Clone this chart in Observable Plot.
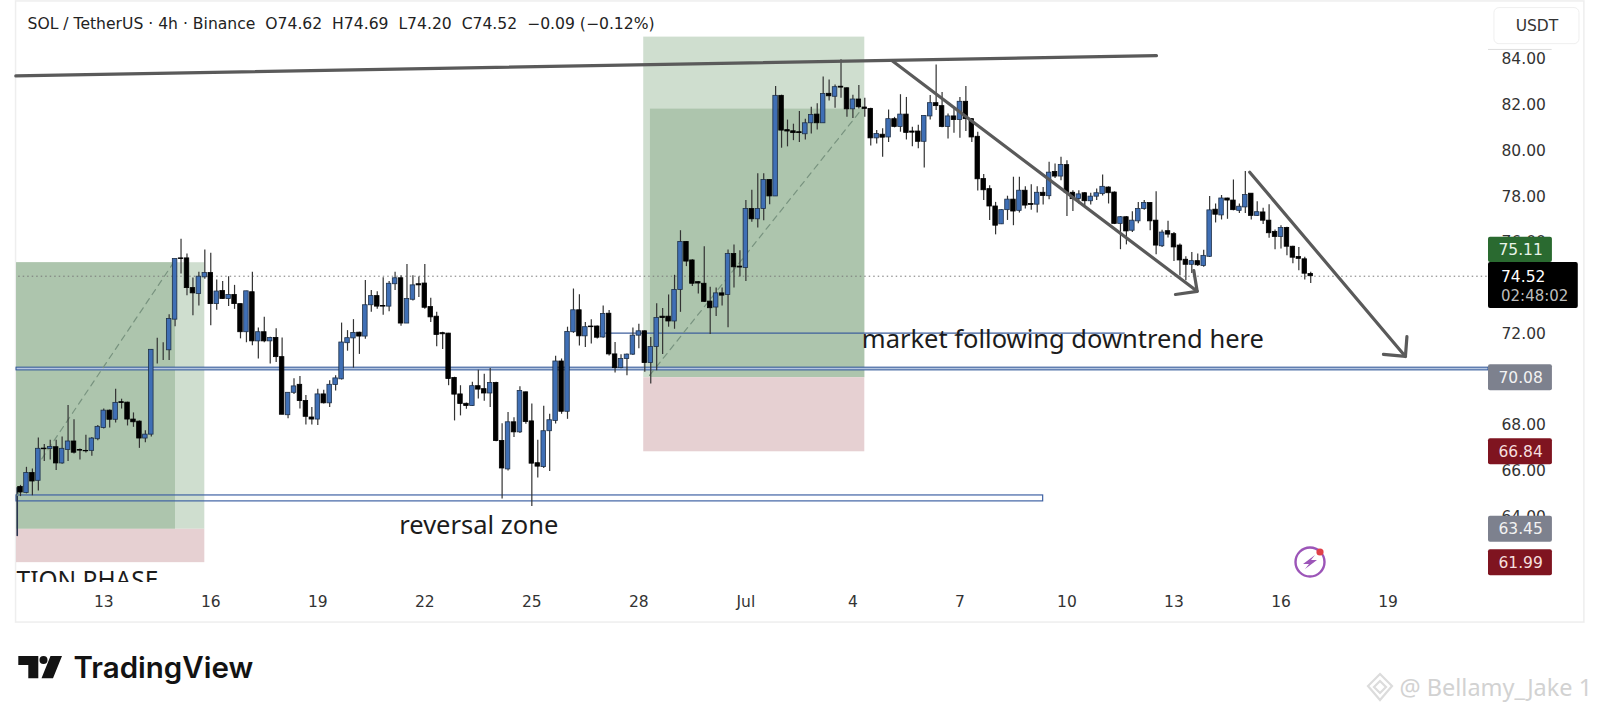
<!DOCTYPE html>
<html>
<head>
<meta charset="utf-8">
<script src="https://cdn.jsdelivr.net/npm/d3@7"></script>
<script src="https://cdn.jsdelivr.net/npm/@observablehq/plot@0.6"></script>
<style>
html,body{margin:0;padding:0;background:#fff;overflow:hidden}
svg{display:block}
</style>
</head>
<body>
<div id="chart"></div>
<script>
// 4h candles
const opens = [
65.30,65.04,65.91,65.57,66.98,66.96,67.04,66.33,66.92,67.29,
66.92,66.88,66.88,67.39,67.88,68.64,68.24,69.01,68.99,68.25,
68.16,67.42,67.59,71.30,71.30,71.28,72.62,75.30,75.30,74.00,
73.74,74.47,74.66,73.30,73.87,73.52,73.70,73.30,72.07,73.82,
71.67,72.07,71.67,71.82,70.98,68.44,69.42,69.77,69.06,68.34,
68.25,69.35,68.96,69.76,70.01,71.59,71.80,72.05,71.88,73.25,
73.65,73.22,73.19,74.17,74.43,72.45,73.49,74.17,74.20,73.17,
72.75,72.03,72.01,70.07,69.35,68.94,68.84,69.71,69.58,69.39,
69.85,67.31,66.07,68.13,67.69,69.44,68.17,66.34,66.17,67.74,
68.19,70.79,68.59,72.07,73.03,71.89,72.32,72.32,71.84,72.88,
71.10,70.50,70.90,71.09,71.92,72.11,70.72,71.42,72.75,72.75,
72.54,73.92,76.02,75.21,74.26,74.19,73.41,73.15,73.77,73.70,
75.49,74.94,74.88,77.46,77.01,77.46,78.73,78.01,82.41,80.91,
80.86,80.82,80.73,81.21,81.59,81.21,82.50,82.37,82.81,82.74,
81.82,82.25,81.90,81.84,80.55,80.71,80.59,81.39,81.05,81.59,
80.85,80.85,80.40,81.51,82.09,81.96,81.05,81.51,81.35,82.15,
81.39,80.62,78.77,78.33,77.57,76.79,77.41,77.87,77.38,78.26,
77.68,77.65,78.17,78.02,79.08,78.88,79.38,78.17,77.90,78.15,
77.80,78.00,78.11,78.40,78.18,76.81,77.10,76.51,76.92,77.46,
77.72,76.95,75.83,76.49,76.36,75.86,75.24,75.02,75.18,74.97,
75.37,77.43,77.18,77.92,77.83,77.38,77.53,78.13,77.16,77.31,
76.95,76.46,76.24,76.63,75.81,75.36,75.26,74.62];
const highs = [
65.37,66.16,66.09,67.44,67.16,67.34,67.34,67.49,68.86,68.24,
66.96,67.56,67.46,67.99,68.71,68.67,69.58,69.14,69.01,68.54,
68.19,67.76,71.30,71.81,71.61,72.83,75.27,76.14,75.49,74.44,
74.69,75.67,75.53,74.35,74.29,74.50,74.12,73.30,73.86,74.69,
72.26,72.72,71.85,72.22,71.82,69.42,70.03,70.13,69.30,68.78,
69.58,69.53,69.95,70.17,72.47,72.14,72.62,72.07,74.33,73.89,
73.84,74.45,74.29,74.69,74.54,75.03,74.54,74.49,75.03,73.56,
72.94,72.07,72.02,70.10,69.73,68.97,69.88,70.41,70.23,70.48,
69.88,68.07,68.56,68.33,69.68,69.46,68.93,67.34,68.83,68.48,
71.02,70.90,72.29,73.96,73.71,72.49,72.62,72.34,73.22,73.02,
71.62,71.09,71.12,72.25,72.42,72.14,71.84,73.32,73.11,73.70,
74.56,76.51,76.04,75.24,74.29,75.81,74.04,74.01,74.01,75.67,
75.89,75.63,77.83,78.28,79.00,79.00,78.74,82.82,82.44,81.35,
81.17,81.72,81.39,81.91,82.06,83.24,83.10,82.89,83.99,82.76,
82.44,82.86,82.31,81.87,80.89,80.97,81.79,81.47,82.46,82.34,
81.04,81.12,81.54,82.42,83.76,82.56,81.62,81.91,82.34,82.82,
81.42,80.82,78.97,78.48,77.75,77.43,78.02,78.85,78.85,78.43,
78.52,78.43,78.40,79.50,79.43,79.72,79.57,78.26,78.26,78.18,
78.15,78.33,78.95,78.43,78.21,77.13,77.13,77.34,77.75,77.83,
77.75,78.21,76.53,76.92,76.43,75.93,75.37,75.56,75.49,75.66,
78.01,77.68,78.05,77.93,78.73,77.68,79.10,78.13,77.78,77.49,
77.65,76.54,76.73,76.66,75.83,75.78,75.35,74.69];
const lows = [
64.88,65.00,64.92,65.12,66.41,66.48,66.02,66.30,66.41,66.74,
66.48,66.79,66.64,67.32,67.84,67.88,68.10,68.71,67.97,67.91,
66.99,67.24,67.49,70.68,70.83,70.83,72.31,74.62,73.67,72.79,
73.22,74.39,72.35,73.03,73.50,73.20,73.07,71.78,71.61,71.48,
70.90,71.61,70.68,70.75,68.46,68.29,69.35,68.71,68.01,68.01,
67.99,68.93,68.78,69.50,69.98,71.24,70.50,71.10,71.76,72.94,
73.07,72.81,72.97,73.89,72.33,72.45,73.44,73.59,73.07,72.49,
71.43,71.31,69.73,68.19,68.41,68.70,68.82,69.15,69.05,68.78,
67.28,64.77,66.00,67.46,67.64,68.04,64.45,65.69,66.11,65.98,
68.06,68.48,68.26,72.02,71.47,71.40,71.55,71.77,71.81,71.03,
70.29,70.47,70.17,71.05,71.35,70.32,69.80,70.38,71.10,72.29,
72.20,72.94,74.94,74.07,73.74,73.37,71.97,72.76,73.22,72.27,
74.00,74.49,74.29,76.88,76.63,76.95,77.65,78.01,80.12,80.18,
80.45,80.37,80.48,80.74,80.92,81.20,82.19,81.87,82.31,81.47,
81.42,81.84,81.47,80.22,80.30,79.72,80.37,81.01,80.82,80.48,
80.18,80.10,79.25,81.35,81.77,81.02,80.52,80.77,80.55,80.85,
80.37,78.25,77.83,76.96,76.33,76.78,76.96,76.73,77.28,77.46,
77.41,77.28,77.64,77.86,78.80,78.70,77.13,77.35,77.68,77.60,
77.63,77.83,78.03,77.68,76.78,75.68,75.89,76.43,76.81,77.41,
76.51,75.46,75.78,76.19,75.16,74.54,74.32,74.64,74.94,74.91,
75.34,76.85,76.98,77.01,77.38,77.26,77.26,76.98,77.13,76.78,
76.18,75.68,75.71,75.41,75.06,74.76,74.36,74.20];
const closes = [
65.06,65.91,65.54,66.97,66.95,67.05,66.33,66.97,67.29,66.80,
66.89,66.86,67.42,67.93,68.64,68.24,68.98,68.97,68.25,68.13,
67.42,67.59,71.30,71.30,71.30,72.65,75.27,75.27,74.00,73.77,
74.50,74.66,73.30,73.85,73.52,73.70,73.30,72.07,73.86,71.67,
72.07,71.67,71.82,70.98,68.46,69.42,69.70,69.06,68.37,68.25,
69.35,68.96,69.77,70.05,71.62,71.81,72.04,71.88,73.25,73.65,
73.19,73.19,74.19,74.43,72.45,73.52,74.12,74.12,73.14,72.72,
71.95,71.98,70.02,69.34,68.93,68.84,69.71,69.56,69.39,69.85,
67.31,66.11,68.13,67.69,69.50,68.14,66.32,66.19,67.74,68.22,
70.79,68.59,72.08,73.03,71.89,72.29,72.29,71.83,72.87,71.10,
70.50,70.90,71.09,71.92,72.11,70.72,71.42,72.69,72.69,72.54,
73.92,76.02,75.16,74.19,74.20,73.40,73.12,73.77,73.67,75.49,
74.91,74.90,77.46,77.01,77.46,78.73,78.01,82.41,80.89,80.85,
80.78,80.78,81.21,81.57,81.21,82.49,82.39,82.79,82.77,81.82,
82.25,81.91,81.84,80.55,80.74,80.58,81.39,81.05,81.59,80.79,
80.80,80.40,81.53,82.09,81.96,81.05,81.51,81.35,82.15,81.39,
80.59,78.76,78.28,77.57,76.73,77.41,77.87,77.35,78.26,77.61,
77.64,78.17,78.03,79.05,78.88,79.39,78.17,77.89,78.10,77.80,
78.00,78.15,78.43,78.15,76.81,77.10,76.48,76.95,77.46,77.72,
76.92,75.86,76.43,76.34,75.78,75.21,75.02,75.18,75.00,75.41,
77.40,77.21,77.92,77.83,77.41,77.56,78.07,77.16,77.32,76.95,
76.40,76.24,76.63,75.81,75.33,75.28,74.63,74.52];

const candles = opens.map((o, i) => ({i, o, h: highs[i], l: lows[i], c: closes[i]}));
const upCandles = candles.filter(d => d.c >= d.o);
const downCandles = candles.filter(d => d.c < d.o);

// time axis: candle index of each day label
const timeTicks = [14,32,50,68,86,104,122,140,158,176,194,212,230];
const timeLabels = ["13","16","19","22","25","28","Jul","4","7","10","13","16","19"];
// price axis
const priceTicks = [84,82,80,78,76,72,68,66,64];
const lastPrice = 74.52;

// position tool zones (from-index, to-index, low, high)
const lightGreen = [[-0.67,31.0,63.45,75.11],[104.82,142.0,70.08,84.98]];
const darkGreen  = [[-0.67,26.07,63.45,75.11],[105.95,142.0,70.08,81.83]];
const pinkZones  = [[-0.67,31.0,61.99,63.45],[104.82,142.0,66.84,70.08]];
const zoneRect = z => ({x1: z[0], x2: z[1], y1: z[2], y2: z[3]});

// drawn lines, in candle index and price
const resistance = [[-0.79,83.28],[191.05,84.17]];
const arrowOne = [[146.77,83.91],[197.9,73.86]];
const arrowOneHead = [[194.25,73.72],[197.9,73.86],[197.33,74.77]];
const arrowTwo = [[206.74,79.07],[232.93,71.01]];
const arrowTwoHead = [[229.23,71.10],[232.93,71.01],[233.18,71.88]];
const diagonalOne = [[-0.55,64.93],[25.78,75.13]];
const diagonalTwo = [[105.8,70.18],[141.6,81.86]];
const tick = [[-0.55,65.27],[-0.55,63.18]];
const bandLine = {x1:-0.67, x2:246.9, y1:70.40, y2:70.52};
const reversalBand = {x1:-0.67, x2:172.0, y1:64.67, y2:64.93};
const midLine = {x1:97.5, x2:185.8, y:72.03};

// price tags
const tags = [
  {text:"75.11", at:75.67, fill:"#2a6a30", color:"#e8f3e8", half:0.55},
  {text:"70.08", at:70.08, fill:"#7d818e", color:"#f2f2f2", half:0.57},
  {text:"66.84", at:66.84, fill:"#7f1420", color:"#f6dede", half:0.57},
  {text:"63.45", at:63.45, fill:"#7d818e", color:"#f2f2f2", half:0.57},
  {text:"61.99", at:61.99, fill:"#7f1420", color:"#f6dede", half:0.57}
];

const notes = [
  {text:"market following downtrend here", i:141.5, p:71.75},
  {text:"reversal zone", i:63.7, p:63.6}
];

const ui = "'DejaVu Sans', sans-serif";
const sans = "'Noto Sans', sans-serif";
const INK = "#5a5a5a";

const line = (pts, o = {}) => Plot.line(pts, {x: d => d[0], y: d => d[1], stroke: INK, strokeWidth: 3.2, ...o});

const decoration = () => {
  const g = d3.create("svg:g");
  // TradingView mark
  g.append("path").attr("fill", "#131313")
    .attr("d", "M18.3 656H38.3V678.3H28.3V665H18.3Z M62 656L53 678.3H41.5L50.5 656Z");
  g.append("circle").attr("cx", 43.5).attr("cy", 660).attr("r", 4).attr("fill", "#131313");
  // bolt badge
  g.append("circle").attr("cx", 1310).attr("cy", 562).attr("r", 14.5).attr("fill", "none").attr("stroke", "#9c55b8").attr("stroke-width", 2.4);
  g.append("path").attr("fill", "#9c55b8").attr("d", "M1315 555L1303 564H1309L1305 569L1317 560H1311Z");
  g.append("circle").attr("cx", 1320).attr("cy", 552).attr("r", 3.6).attr("fill", "#e0404a");
  // watermark diamond
  g.append("path").attr("fill", "none").attr("stroke", "#dcdcdc").attr("stroke-width", 2.2)
    .attr("d", "M1380 674L1392 686L1380 700L1368 686Z M1380 681L1386 687L1380 693L1374 687Z");
  return g.node();
};

const chart = Plot.plot({
  width: 1600,
  height: 712,
  marginTop: 0,
  marginLeft: 16,
  marginRight: 112,
  marginBottom: 130,
  style: {fontFamily: ui, fontSize: "15.5px", background: "#fff", color: "#333"},
  x: {domain: [-0.673, 246.9], axis: null},
  y: {domain: [61.122, 86.581], axis: null},
  marks: [
    // outer frame and currency button
    Plot.rect([{x1:-0.75, x2:263.03, y1:59.37, y2:86.54}], {x1:"x1", x2:"x2", y1:"y1", y2:"y2", fill:"none", stroke:"#eeeeee", strokeWidth:1.5}),
    Plot.rect([{x1:247.9, x2:262.2, y1:84.67, y2:86.25}], {x1:"x1", x2:"x2", y1:"y1", y2:"y2", fill:"#fff", stroke:"#efefef", rx:5}),
    Plot.ruleY([84.44], {x1:246.9, x2:257.6, stroke:"#dddddd"}),

    // zones
    Plot.rect(lightGreen.map(zoneRect), {x1:"x1", x2:"x2", y1:"y1", y2:"y2", fill:"#cfdecf"}),
    Plot.rect(darkGreen.map(zoneRect), {x1:"x1", x2:"x2", y1:"y1", y2:"y2", fill:"#adc5ad"}),
    Plot.rect(pinkZones.map(zoneRect), {x1:"x1", x2:"x2", y1:"y1", y2:"y2", fill:"#e6d0d2"}),

    // horizontal levels
    Plot.ruleY([lastPrice], {x1:-0.3, x2:246.9, stroke:"#777", strokeWidth:1, strokeDasharray:"1.5,3"}),
    Plot.rect([bandLine], {x1:"x1", x2:"x2", y1:"y1", y2:"y2", fill:"#b4c5e0", stroke:"#2f5597", strokeWidth:1}),
    Plot.rect([reversalBand], {x1:"x1", x2:"x2", y1:"y1", y2:"y2", fill:"none", stroke:"#3f62a4", strokeWidth:1.2}),
    Plot.ruleY([midLine.y], {x1:midLine.x1, x2:midLine.x2, stroke:"#3e5f9c", strokeWidth:1.3}),
    line(tick, {stroke:"#2a3550", strokeWidth:1.6}),

    // dashed position diagonals
    line(diagonalOne, {stroke:"#78937f", strokeWidth:1.2, strokeDasharray:"6,5"}),
    line(diagonalTwo, {stroke:"#78937f", strokeWidth:1.2, strokeDasharray:"6,5"}),

    // candles
    Plot.ruleX(candles, {x:"i", y1:"l", y2:"h", stroke:"#333", strokeWidth:1.2}),
    Plot.rect(upCandles, {x1: d => d.i - 0.38, x2: d => d.i + 0.38, y1:"o", y2:"c", fill:"#3f6fb5", stroke:"#1e3048", strokeWidth:0.8}),
    Plot.rect(downCandles, {x1: d => d.i - 0.38, x2: d => d.i + 0.38, y1:"o", y2:"c", fill:"#000", stroke:"#000", strokeWidth:0.8}),

    // hand-drawn lines
    line(resistance),
    line(arrowOne),
    line(arrowOneHead),
    line(arrowTwo),
    line(arrowTwoHead),

    // annotations
    Plot.text(notes, {x:"i", y:"p", text:"text", textAnchor:"start", fontFamily:sans, fontSize:25.5, fill:"#1c1c1c"}),
    Plot.text(["TION PHASE"], {x:() => -0.67, y:() => 61.19, text:d => d, textAnchor:"start", fontFamily:sans, fontSize:24.5, fill:"#1c1c1c", clip:"frame"}),

    // axes
    Plot.axisX(timeTicks, {anchor:"bottom", tickSize:0, tickPadding:13, label:null, tickFormat:d => timeLabels[timeTicks.indexOf(d)], fill:"#333"}),
    Plot.axisY(priceTicks, {anchor:"right", tickSize:0, tickPadding:13, label:null, tickFormat:".2f", fill:"#333"}),

    // price tags
    Plot.rect(tags, {x1:() => 246.9, x2:() => 257.65, y1:d => d.at - d.half, y2:d => d.at + d.half, fill:d => d.fill, rx:2}),
    Plot.text(tags, {x:() => 252.3, y:"at", text:"text", fill:d => d.color, fontSize:15.5}),
    Plot.rect([{}], {x1:() => 246.9, x2:() => 262.0, y1:() => 73.11, y2:() => 75.12, fill:"#000", rx:2}),
    Plot.text(["74.52"], {x:() => 249.0, y:() => 74.5, text:d => d, textAnchor:"start", fill:"#fff", fontSize:15.5}),
    Plot.text(["02:48:02"], {x:() => 249.0, y:() => 73.63, text:d => d, textAnchor:"start", fill:"#bdbdbd", fontSize:15}),
    Plot.text(["USDT"], {x:() => 255.05, y:() => 85.47, text:d => d, fill:"#333", fontSize:15.5}),

    // header and footer text
    Plot.text(["SOL / TetherUS · 4h · Binance  O74.62  H74.69  L74.20  C74.52  −0.09 (−0.12%)"], {
      frameAnchor:"top-left", dx:11, dy:23, lineAnchor:"middle", textAnchor:"start", text:d => d, fill:"#222", fontSize:15.6}),
    Plot.text(["TradingView"], {
      frameAnchor:"top-left", dx:57, dy:668, lineAnchor:"middle", textAnchor:"start", text:d => d, fill:"#131313",
      fontFamily:"Inter, sans-serif", fontWeight:600, fontSize:29.5}),
    Plot.text(["@ Bellamy_Jake 1"], {
      frameAnchor:"top-left", dx:1383, dy:688, lineAnchor:"middle", textAnchor:"start", text:d => d, fill:"#d2d2d2", fontFamily:sans, fontSize:23.5}),
    decoration
  ]
});
document.getElementById("chart").append(chart);
</script>
</body>
</html>
